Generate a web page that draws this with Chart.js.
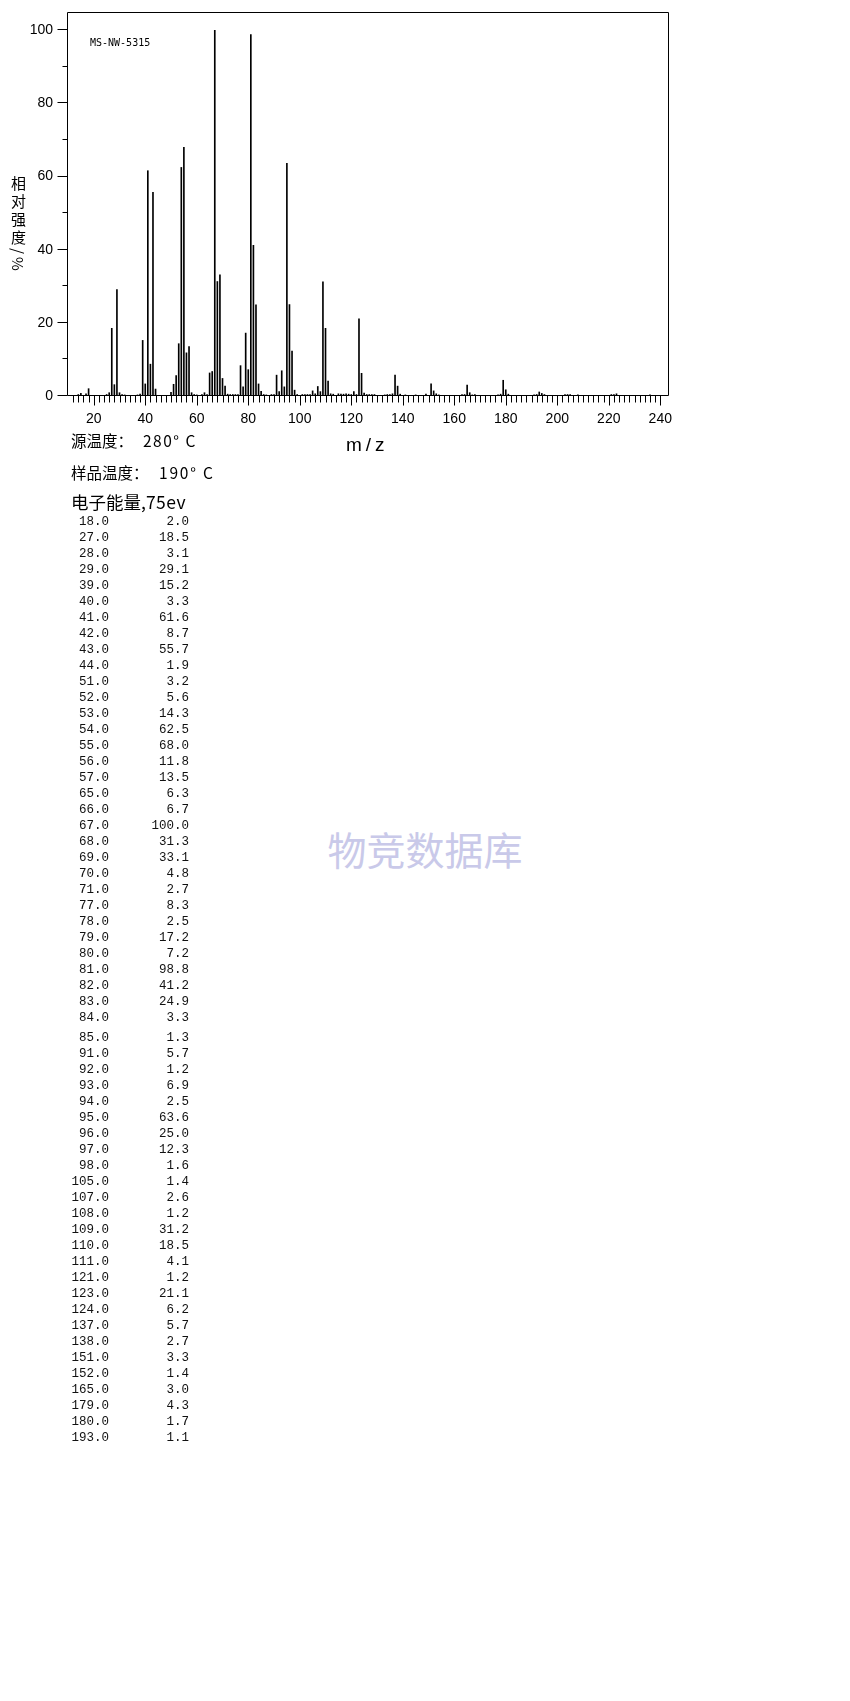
<!DOCTYPE html>
<html lang="zh">
<head>
    <meta charset="UTF-8">
    <title>MS-NW-5315</title>
    <style>
        body { margin: 0; background: #fff; }
        #page { position: relative; width: 850px; height: 1701px; overflow: hidden; }
        #chartBox { position: absolute; left: 0; top: 0; width: 850px; height: 460px; }
        .abs { position: absolute; white-space: pre; color: #000; }
        #code { left: 90px; top: 37px; font: 10px "DejaVu Sans Mono", monospace; }
        #ytitle { left: 8px; top: 176px; writing-mode: vertical-rl; font: 15px "Noto Sans CJK SC", sans-serif; letter-spacing: 3px; }
        #xtitle { left: 346px; top: 434px; font: 19px "Liberation Sans", sans-serif; letter-spacing: 4px; }
        .meta { left: 71px; font: 15.5px "Noto Sans CJK SC", sans-serif; line-height: 20px; }
        .row { position: absolute; font: 12.5px "Liberation Mono", monospace; line-height: 16px; color: #111; text-align: right; }
        #mark { left: 0; width: 850px; top: 820px; text-align: center; font: 39px "Noto Sans CJK SC", sans-serif; color: #c9c9e9; }
    </style>
</head>
<body>
<div id="page">
    <div id="chartBox"><canvas id="msChart" width="850" height="460"></canvas></div>
    <div class="abs" id="code">MS-NW-5315</div>
    <div class="abs" id="ytitle">相对强度/%</div>
    <div class="abs" id="xtitle">m/z</div>
    <div class="abs meta" style="top:430px">源温度：<span style="letter-spacing:1.5px">  280° C</span></div>
    <div class="abs meta" style="top:462px">样品温度：<span style="letter-spacing:1.8px">  190° C</span></div>
    <div class="abs meta" style="top:492px; font-size:17.5px">电子能量,<span style="letter-spacing:0.5px">75ev</span></div>
    <div class="abs" id="mark">物竞数据库</div>
    <div id="table"></div>
</div>
<script src="https://cdn.jsdelivr.net/npm/chart.js"></script>
<script>
    // peaks listed in the table
    const masses = [18, 27, 28, 29, 39, 40, 41, 42, 43, 44, 51, 52, 53, 54, 55, 56, 57, 65, 66, 67,
        68, 69, 70, 71, 77, 78, 79, 80, 81, 82, 83, 84,
        85, 91, 92, 93, 94, 95, 96, 97, 98, 105, 107, 108, 109, 110, 111, 121, 123, 124,
        137, 138, 151, 152, 165, 179, 180, 193];
    const intensities = [2.0, 18.5, 3.1, 29.1, 15.2, 3.3, 61.6, 8.7, 55.7, 1.9, 3.2, 5.6, 14.3, 62.5, 68.0, 11.8, 13.5, 6.3, 6.7, 100.0,
        31.3, 33.1, 4.8, 2.7, 8.3, 2.5, 17.2, 7.2, 98.8, 41.2, 24.9, 3.3,
        1.3, 5.7, 1.2, 6.9, 2.5, 63.6, 25.0, 12.3, 1.6, 1.4, 2.6, 1.2, 31.2, 18.5, 4.1, 1.2, 21.1, 6.2,
        5.7, 2.7, 3.3, 1.4, 3.0, 4.3, 1.7, 1.1];
    const firstBlockRows = 32;

    // small peaks seen on the plot only (estimated)
    const minorMasses = [14, 15, 17, 25, 26, 30, 31, 32, 37, 38, 50, 58, 59, 60, 62, 63, 64, 72, 73, 74, 75, 76,
        86, 87, 89, 90, 99, 101, 102, 103, 104, 106, 112, 113, 115, 116, 117, 118, 119, 120, 122,
        125, 126, 127, 128, 129, 133, 134, 135, 136, 139, 141, 145, 149, 153, 154, 163, 164, 166, 167, 168,
        177, 178, 181, 191, 192, 194, 195, 203, 204, 205, 208, 221, 222, 223, 236];
    const minorIntensities = [0.4, 0.7, 0.6, 0.4, 0.9, 0.9, 0.4, 0.3, 0.3, 0.5, 1.0, 0.9, 0.4, 0.3, 0.4, 0.9, 0.4, 0.5, 0.4, 0.4, 0.4, 0.4,
        0.4, 0.3, 0.4, 0.4, 0.4, 0.4, 0.4, 0.4, 0.4, 0.6, 0.6, 0.5, 0.6, 0.5, 0.5, 0.6, 0.5, 0.4, 0.4,
        0.8, 0.4, 0.4, 0.4, 0.4, 0.3, 0.4, 0.4, 0.6, 0.5, 0.3, 0.3, 0.5, 0.6, 0.3, 0.4, 0.4, 0.9, 0.3, 0.4,
        0.3, 0.5, 0.5, 0.3, 0.4, 0.7, 0.4, 0.4, 0.4, 0.4, 0.3, 0.4, 0.4, 0.6, 0.3];

    const xTickValues = [20, 40, 60, 80, 100, 120, 140, 160, 180, 200, 220, 240];
    const yTickValues = [0, 20, 40, 60, 80, 100];

    // table under the chart
    const table = document.getElementById('table');
    masses.forEach((m, i) => {
        const top = 514 + i * 16 + (i >= firstBlockRows ? 3.5 : 0);
        const a = document.createElement('div');
        a.className = 'row';
        a.style.cssText = `left:50px;width:59px;top:${top}px`;
        a.textContent = m.toFixed(1);
        const b = document.createElement('div');
        b.className = 'row';
        b.style.cssText = `left:120px;width:69px;top:${top}px`;
        b.textContent = intensities[i].toFixed(1);
        table.appendChild(a);
        table.appendChild(b);
    });

    const peaks = masses.map((m, i) => ({ x: m, y: intensities[i] }))
        .concat(minorMasses.map((m, i) => ({ x: m, y: minorIntensities[i] })));

    // box, zero line and tick marks
    const framePlugin = {
        id: 'frame',
        afterDraw(chart) {
            const ctx = chart.ctx;
            const xs = chart.scales.x, ys = chart.scales.y;
            const a = chart.chartArea;
            const L = Math.round(a.left) - 0.5, R = Math.round(a.right) + 0.5;
            const T = Math.round(a.top) + 0.5, B = Math.round(ys.getPixelForValue(0)) - 0.5;
            ctx.save();
            ctx.strokeStyle = '#000';
            ctx.lineWidth = 1;
            ctx.beginPath();
            ctx.moveTo(L, B); ctx.lineTo(L, T); ctx.lineTo(R, T); ctx.lineTo(R, B);
            ctx.moveTo(L, B); ctx.lineTo(R, B);
            for (let v = 0; v <= 100; v += 10) {
                const y = Math.round(ys.getPixelForValue(v)) - 0.5;
                ctx.moveTo(L - (v % 20 === 0 ? 10 : 5), y); ctx.lineTo(L, y);
            }
            for (let v = 12; v <= 240; v += 2) {
                const x = Math.round(xs.getPixelForValue(v)) + 0.5;
                ctx.moveTo(x, B); ctx.lineTo(x, B + (v % 20 === 0 ? 10 : 7));
            }
            ctx.stroke();
            ctx.restore();
        }
    };

    new Chart(document.getElementById('msChart').getContext('2d'), {
        type: 'bar',
        data: {
            datasets: [{
                data: peaks,
                backgroundColor: '#000',
                borderWidth: 0,
                barThickness: 1
            }]
        },
        options: {
            responsive: false,
            animation: false,
            devicePixelRatio: 1,
            layout: { padding: { top: 12, right: 182, left: 0, bottom: 0 } },
            plugins: { legend: { display: false }, tooltip: { enabled: false } },
            scales: {
                x: {
                    type: 'linear',
                    offset: false,
                    min: 10,
                    max: 243,
                    grid: { display: false, drawTicks: false, offset: false },
                    border: { display: false },
                    afterBuildTicks: s => { s.ticks = xTickValues.map(v => ({ value: v })); },
                    afterFit: s => { s.height = 64; s.paddingLeft = 0; s.paddingRight = 0; },
                    ticks: {
                        autoSkip: false,
                        maxRotation: 0,
                        padding: 15,
                        color: '#000',
                        font: { family: 'Liberation Sans', size: 14 }
                    }
                },
                y: {
                    min: 0,
                    max: 105,
                    grid: { display: false, drawTicks: false },
                    border: { display: false },
                    afterBuildTicks: s => { s.ticks = yTickValues.map(v => ({ value: v })); },
                    afterFit: s => { s.width = 68; s.paddingTop = 0; s.paddingBottom = 0; },
                    ticks: {
                        padding: 15,
                        color: '#000',
                        font: { family: 'Liberation Sans', size: 14 }
                    }
                }
            }
        },
        plugins: [framePlugin]
    });
</script>
</body>
</html>
